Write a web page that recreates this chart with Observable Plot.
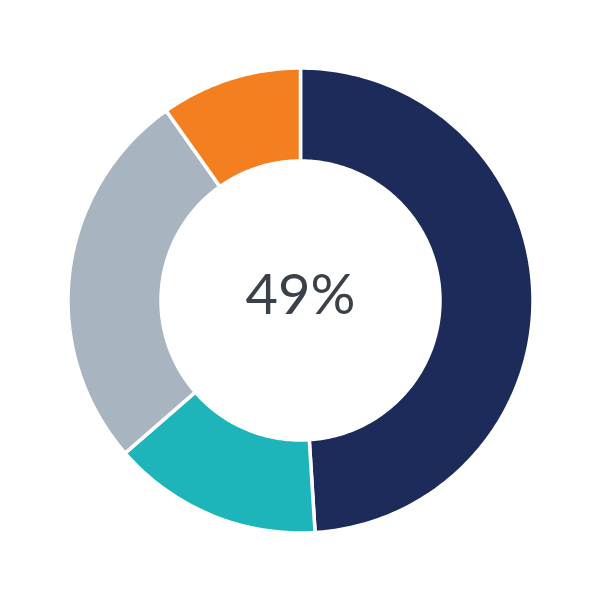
<!DOCTYPE html>
<html>
<head>
<meta charset="utf-8">
<script src="https://cdn.jsdelivr.net/npm/d3@7"></script>
<script src="https://cdn.jsdelivr.net/npm/@observablehq/plot@0.6"></script>
<style>
  html, body { margin: 0; padding: 0; background: #fff; }
</style>
</head>
<body>
<div id="chart"></div>
<script>
const categories = ["A", "B", "C", "D"];
const values = [49, 14.6, 26.6, 9.8];
const colors = ["#1c2b5a", "#1db5b9", "#a9b4c1", "#f47f20"];
const centerLabel = ["49%"];

const outerR = 0.775, innerR = 0.465;
const pie = d3.pie().sort(null).value(d => d.value);
const arcs = pie(categories.map((c, i) => ({key: c, value: values[i]})));

const pts = [];
for (const a of arcs) {
  const n = Math.max(8, Math.ceil((a.endAngle - a.startAngle) / (Math.PI / 180)));
  const angs = d3.range(n + 1).map(k => a.startAngle + (a.endAngle - a.startAngle) * k / n);
  for (const t of angs) pts.push({key: a.data.key, x: outerR * Math.sin(t), y: outerR * Math.cos(t)});
  for (const t of angs.slice().reverse()) pts.push({key: a.data.key, x: innerR * Math.sin(t), y: innerR * Math.cos(t)});
}

const chart = Plot.plot({
  width: 600,
  height: 600,
  margin: 0,
  x: {domain: [-1, 1], axis: null},
  y: {domain: [-1, 1], axis: null},
  color: {domain: categories, range: colors},
  style: {background: "#fff"},
  marks: [
    Plot.line(pts, {x: "x", y: "y", z: "key", fill: "key", stroke: "white", strokeWidth: 3.5, curve: "linear-closed"}),
    Plot.text(centerLabel, {x: () => 0, y: () => 0, text: d => d, fontSize: 56, fontFamily: "Lato", fontWeight: 400, fill: "#3a4148", textAnchor: "middle", lineAnchor: "middle", dy: -4})
  ]
});
document.getElementById("chart").appendChild(chart);
</script>
</body>
</html>
